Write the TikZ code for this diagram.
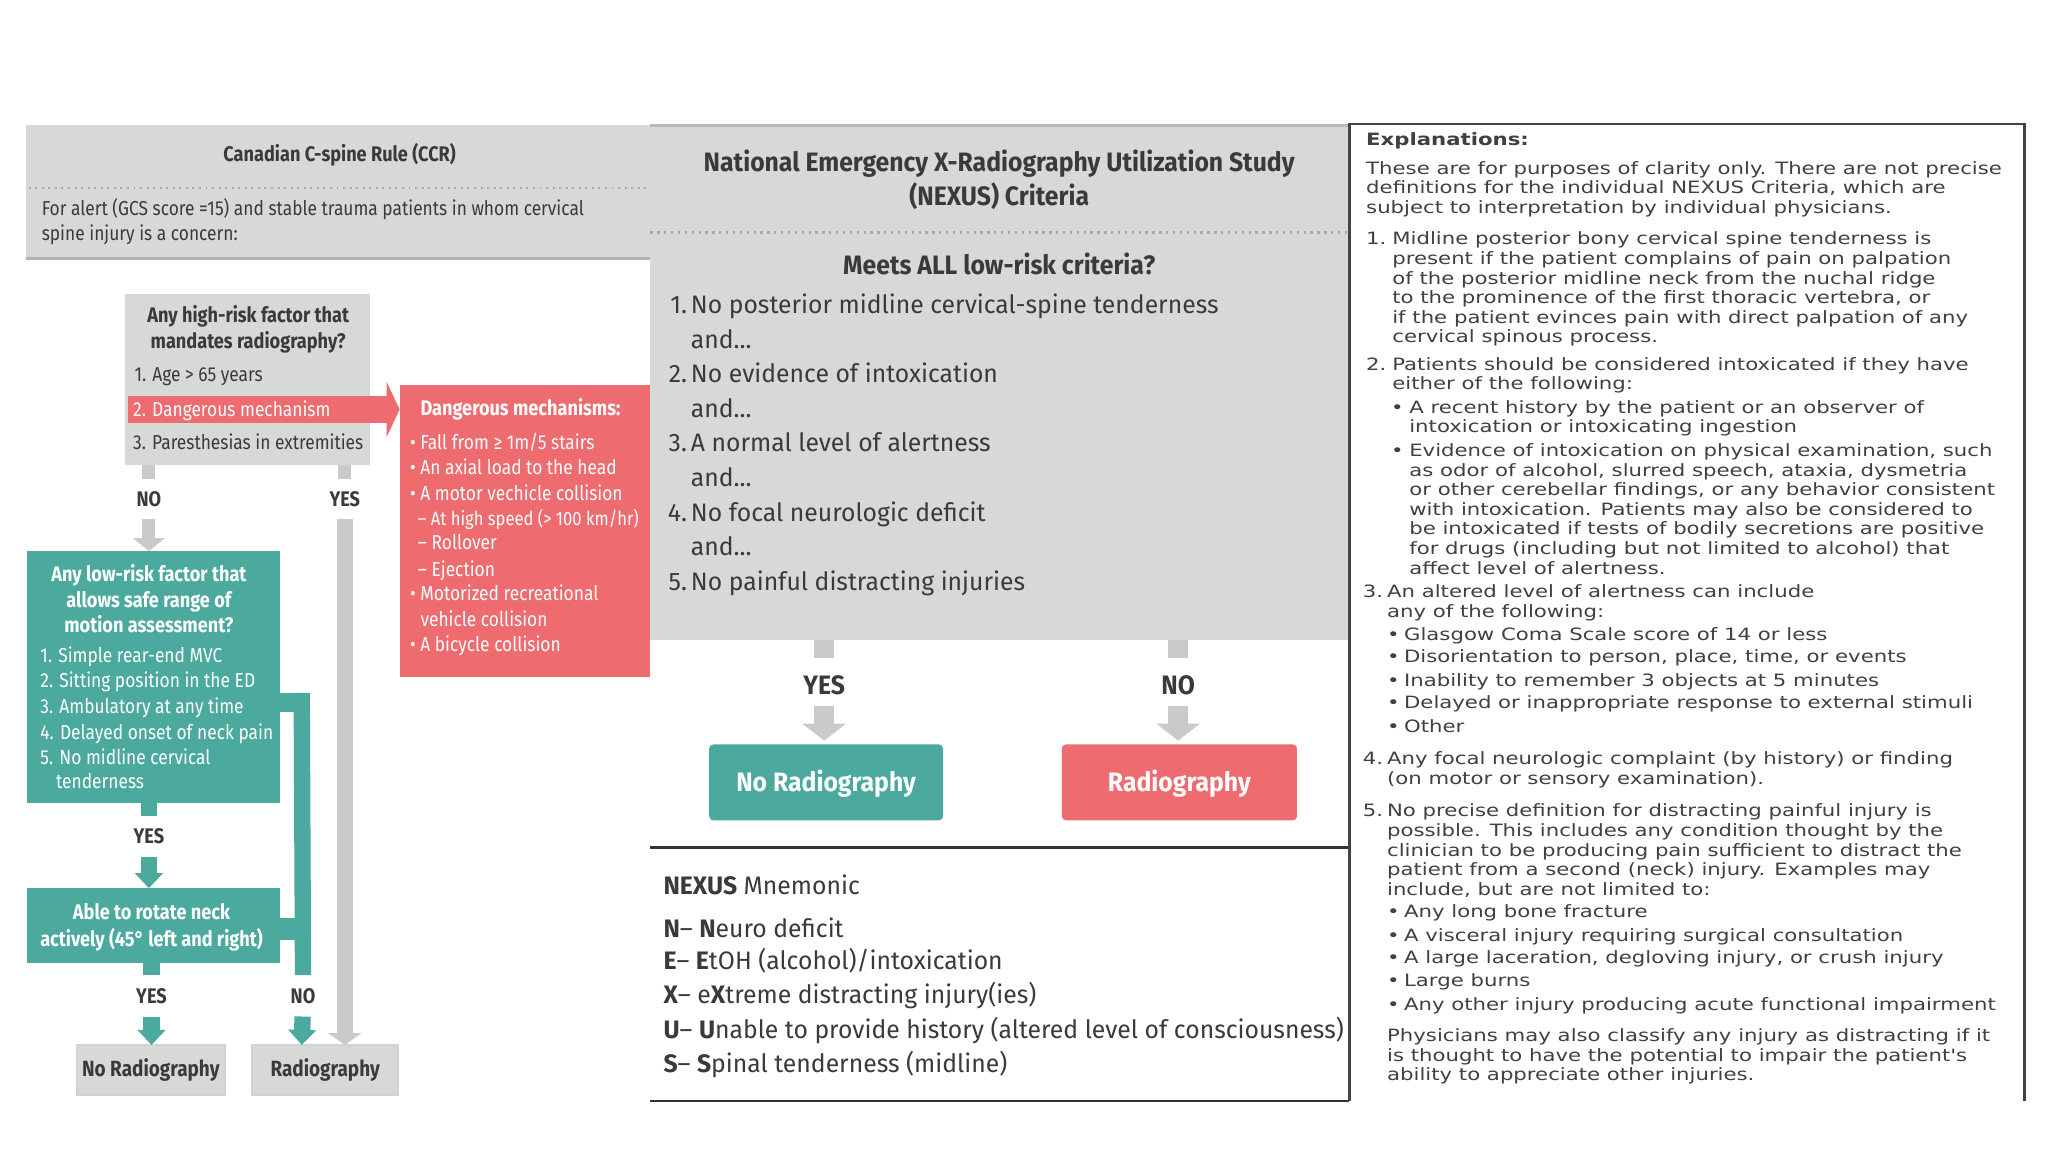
\documentclass[tikz,border=0pt]{standalone}
\usepackage{fontspec}
\setmainfont{Fira Sans}
\newfontfamily\cndL[FakeStretch=0.86]{Fira Sans}
\newfontfamily\cndM[FakeStretch=0.93]{Fira Sans}
\newfontfamily\cndMR[FakeStretch=0.98]{Fira Sans}
\newfontfamily\exfont[FakeStretch=1.25]{DejaVu Sans}
\usetikzlibrary{arrows.meta,calc}
\definecolor{gboxc}{HTML}{D6D9D6}
\definecolor{garrc}{HTML}{C9CBC9}
\definecolor{tealc}{HTML}{4BAA9D}
\definecolor{redc}{HTML}{EE6B70}
\definecolor{darkc}{HTML}{3A3A3A}
\definecolor{exc}{HTML}{404040}
\definecolor{linec}{HTML}{444444}
\definecolor{dotc}{HTML}{A8ABA8}
\def\PX{0.02cm}
\newcommand\EL[3]{\node[txt,fE] (#1) at (#2) {#3};}
\newcommand\ELN[3]{\node[txt,fE,anchor=base east] (#1) at (#2) {#3};}
\begin{document}
\begin{tikzpicture}[x=0.02cm,y=-0.02cm,
 box/.style={rectangle,inner sep=0,outer sep=0,anchor=north west},
 txt/.style={inner sep=0,outer sep=0,anchor=base west,text=darkc},
 ctxt/.style={inner sep=0,outer sep=0,anchor=base,text=darkc},
 fL/.style={font=\cndL\fontsize{8.8}{10}\selectfont},
 fLb/.style={font=\cndL\bfseries\fontsize{9.2}{10}\selectfont},
 fM/.style={font=\cndMR\fontsize{11}{12}\selectfont},
 fMb/.style={font=\cndM\bfseries\fontsize{11.6}{13}\selectfont},
 fE/.style={font=\exfont\fontsize{7.4}{9}\selectfont,text=exc},
 gstem/.style={draw=garrc,line width=0.2cm},
 garrow/.style={draw=garrc,line width=0.2cm,-{Triangle[length=0.2cm,width=0.48cm]}},
 glong/.style={draw=garrc,line width=0.25cm,-{Triangle[length=0.18cm,width=0.5cm]}},
 tstem/.style={draw=tealc,line width=0.25cm},
 tarrow/.style={draw=tealc,line width=0.25cm,-{Triangle[length=0.23cm,width=0.42cm]}},
 mstem/.style={draw=garrc,line width=0.3cm},
 marrow/.style={draw=garrc,line width=0.3cm,-{Triangle[length=0.26cm,width=0.66cm]}},
]
\useasboundingbox (0,0) rectangle (1568,882);
\fill[white] (0,0) rectangle (1568,882);

% ================= LEFT: CCR =================
\node[box,fill=gboxc,minimum width=478*\PX,minimum height=102*\PX] (ccr) at (20,96) {};
\draw[draw=gray!60,line width=0.04cm] (ccr.south west) -- (ccr.south east);
\node[ctxt,fLb] (ccrt) at (260,124) {Canadian C-spine Rule (CCR)};
\draw[dotc,dotted,line width=0.03cm] (22,144) -- (ccr.east |- 0,144);
\node[txt,fL] (ccr1) at (32,165) {For alert (GCS score =15) and stable trauma patients in whom cervical};
\node[txt,fL] (ccr2) at (32,184) {spine injury is a concern:};

% high-risk box
\node[box,fill=gboxc,minimum width=187*\PX,minimum height=131*\PX] (hr) at (96,225) {};
\node[ctxt,fLb] (hrt1) at (190,247) {Any high-risk factor that};
\node[ctxt,fLb] (hrt2) at (190,267) {mandates radiography?};
\node[txt,fL] (hr1) at (103,292) {1. Age > 65 years};
\node[box,fill=redc,minimum width=197*\PX,minimum height=21*\PX] (dmi) at (98,303) {};
\node[txt,fL,text=white] (hr2) at (102,318.5) {2. Dangerous mechanism};
\node[txt,fL] (hr3) at (102,344) {3. Paresthesias in extremities};

% dangerous mechanisms box
\node[box,fill=redc,minimum width=192*\PX,minimum height=223*\PX] (dm) at (306,295) {};
\draw[draw=redc,line width=0.42cm,-{Triangle[length=0.2cm,width=0.84cm]}] (dmi.east) -- (dm.west |- dmi.east);
\node[txt,fLb,text=white] (dmt) at (322,318) {Dangerous mechanisms:};
\node[txt,fL,text=white] (dm1) at (314,344) {• Fall from ≥ 1m/5 stairs};
\node[txt,fL,text=white] (dm2) at (314,363) {• An axial load to the head};
\node[txt,fL,text=white] (dm3) at (314,383) {• A motor vechicle collision};
\node[txt,text=white,font=\cndL\fontsize{8.4}{10}\selectfont] (dm4) at (320,402) {– At high speed (> 100 km/hr)};
\node[txt,fL,text=white] (dm5) at (320,421) {– Rollover};
\node[txt,fL,text=white] (dm6) at (320,441) {– Ejection};
\node[txt,fL,text=white] (dm7) at (314,460) {• Motorized recreational};
\node[txt,fL,text=white] (dm8) at (322,480) {vehicle collision};
\node[txt,fL,text=white] (dm9) at (314,499) {• A bicycle collision};

% NO / YES under high-risk
\node[ctxt,fLb] (hrno) at (114,388) {NO};
\node[ctxt,fLb] (hryes) at (264,388) {YES};
\draw[gstem] (hr.south -| hrno) -- ([yshift=0.2cm]hrno.north);
\draw[gstem] (hr.south -| hryes) -- ([yshift=0.2cm]hryes.north);

% low-risk teal box
\node[box,fill=tealc,minimum width=193*\PX,minimum height=193*\PX] (lr) at (21,422) {};
\draw[garrow,shorten <=0.18cm] (hrno.south) -- (lr.north -| hrno);
\node[ctxt,fLb,text=white] (lrt1) at (114,445) {Any low-risk factor that};
\node[ctxt,fLb,text=white] (lrt2) at (114,465) {allows safe range of};
\node[ctxt,fLb,text=white] (lrt3) at (114,484) {motion assessment?};
\node[txt,fL,text=white] (lr1) at (31,507) {1. Simple rear-end MVC};
\node[txt,fL,text=white] (lr2) at (31,526) {2. Sitting position in the ED};
\node[txt,fL,text=white] (lr3) at (31,546) {3. Ambulatory at any time};
\node[txt,fL,text=white] (lr4) at (31,566) {4. Delayed onset of neck pain};
\node[txt,fL,text=white] (lr5) at (31,585) {5. No midline cervical};
\node[txt,fL,text=white] (lr6) at (43,604) {tenderness};

% YES -> rotate box
\node[ctxt,fLb] (lryes) at (114,646) {YES};
\draw[tstem] (lr.south -| lryes) -- ([yshift=0.2cm]lryes.north);
\node[box,fill=tealc,minimum width=193*\PX,minimum height=57*\PX] (rot) at (21,680) {};
\draw[tarrow,shorten <=0.2cm] (lryes.south) -- (rot.north -| lryes);
\node[ctxt,fLb,text=white] (rott1) at (116,704) {Able to rotate neck};
\node[ctxt,fLb,text=white] (rott2) at (116,725) {actively (45° left and right)};

% bottom outcomes (left)
\node[box,fill=gboxc,draw=gray!35,line width=0.03cm,minimum width=113*\PX,minimum height=38*\PX] (norL) at (59,800) {};
\node[ctxt,fLb,font=\cndL\bfseries\fontsize{9.6}{10}\selectfont] (norLt) at (norL.center |- 0,824) {No Radiography};
\node[box,fill=gboxc,draw=gray!35,line width=0.03cm,minimum width=112*\PX,minimum height=38*\PX] (radL) at (193,800) {};
\node[ctxt,fLb,font=\cndL\bfseries\fontsize{9.6}{10}\selectfont] (radLt) at (radL.center |- 0,824) {Radiography};

% rotate YES / NO
\node[ctxt,fLb] (rotyes) at (116,768) {YES};
\node[ctxt,fLb] (rotno) at (232,768) {NO};
\draw[tstem] (rot.south -| rotyes) -- ([yshift=0.2cm]rotyes.north);
\draw[tarrow,shorten <=0.2cm] (rotyes.south) -- (norL.north -| rotyes);
% teal NO path from low-risk box and rotate box
\draw[draw=tealc,line width=0.3cm] (lr.east |- 0,538) -- (231,538);
\draw[draw=tealc,line width=0.25cm] (231,530.5) -- ([yshift=0.2cm]rotno.north);
\draw[draw=tealc,line width=0.34cm] (rot.east |- 0,711.5) -- (231,711.5);
\draw[tarrow,shorten <=0.2cm] (rotno.south) -- (radL.north -| 231,0);
% long gray YES bar
\draw[glong,shorten <=0.18cm] (hryes.south) -- (radL.north -| hryes);

% ================= MIDDLE: NEXUS =================
\node[box,fill=gboxc,minimum width=535*\PX,minimum height=394*\PX] (nx) at (498,96) {};
\draw[draw=gray!55,line width=0.04cm] (nx.north west) -- (nx.north east);
\node[ctxt,fMb] (nxt1) at (765,131) {National Emergency X-Radiography Utilization Study};
\node[ctxt,fMb] (nxt2) at (765,157) {(NEXUS) Criteria};
\draw[dotc,dotted,line width=0.035cm] (nx.west |- 0,178) -- (nx.east |- 0,178);
\node[ctxt,fMb] (meets) at (765,210) {Meets ALL low-risk criteria?};
\node[txt,fM,anchor=base east] (n1) at (526,240) {1.};
\node[txt,fM] (c1) at (529,240) {No posterior midline cervical-spine tenderness};
\node[txt,fM] (a1) at (529,266.5) {and...};
\node[txt,fM,anchor=base east] (n2) at (526,293) {2.};
\node[txt,fM] (c2) at (529,293) {No evidence of intoxication};
\node[txt,fM] (a2) at (529,319.5) {and...};
\node[txt,fM,anchor=base east] (n3) at (526,346) {3.};
\node[txt,fM] (c3) at (529,346) {A normal level of alertness};
\node[txt,fM] (a3) at (529,372.5) {and...};
\node[txt,fM,anchor=base east] (n4) at (526,399) {4.};
\node[txt,fM] (c4) at (529,399) {No focal neurologic deficit};
\node[txt,fM] (a4) at (529,425.5) {and...};
\node[txt,fM,anchor=base east] (n5) at (526,452) {5.};
\node[txt,fM] (c5) at (529,452) {No painful distracting injuries};

\node[ctxt,fMb] (myes) at (631,532) {YES};
\node[ctxt,fMb] (mno) at (902,532) {NO};
\draw[mstem] (nx.south -| myes) -- ([yshift=0.28cm]myes.north);
\draw[mstem] (nx.south -| mno) -- ([yshift=0.28cm]mno.north);
\node[box,fill=tealc,rounded corners=0.06cm,minimum width=179*\PX,minimum height=58*\PX] (norM) at (543,570) {};
\node[box,fill=redc,rounded corners=0.06cm,minimum width=180*\PX,minimum height=58*\PX] (radM) at (813,570) {};
\draw[marrow,shorten <=0.16cm,shorten >=0.06cm] (myes.south) -- (norM.north -| myes);
\draw[marrow,shorten <=0.16cm,shorten >=0.06cm] (mno.south) -- (radM.north -| mno);
\node[ctxt,fMb,text=white] (norMt) at (norM.center |- 0,606) {No Radiography};
\node[ctxt,fMb,text=white] (radMt) at (radM.center |- 0,606) {Radiography};

\draw[black!80,line width=0.04cm] (nx.west |- 0,649) -- (nx.east |- 0,649);
\draw[black!80,line width=0.04cm] (nx.west |- 0,843) -- (nx.east |- 0,843);
\node[txt,fM] (mn0) at (508,685) {\bfseries NEXUS\mdseries\ Mnemonic};
\node[txt,fM] (mn1) at (508,718) {\textbf{N}– \textbf{N}euro deficit};
\node[txt,fM] (mn2) at (508,742) {\textbf{E}– \textbf{E}tOH (alcohol)/intoxication};
\node[txt,fM] (mn3) at (508,768) {\textbf{X}– e\textbf{X}treme distracting injury(ies)};
\node[txt,fM] (mn4) at (508,795) {\textbf{U}– \textbf{U}nable to provide history (altered level of consciousness)};
\node[txt,fM] (mn5) at (508,821) {\textbf{S}– \textbf{S}pinal tenderness (midline)};

% ================= RIGHT: Explanations =================
\draw[linec,line width=0.04cm] (1033,843) -- (1033,95) -- (1550,95) -- (1550,843);
\node[txt,fE,font=\exfont\bfseries\fontsize{7.4}{9}\selectfont] (ex0) at (1046,111.5) {Explanations:};
\EL{p1}{1046,133.5}{These are for purposes of clarity only. There are not precise}
\EL{p2}{1046,148.5}{definitions for the individual NEXUS Criteria, which are}
\EL{p3}{1046,163.5}{subject to interpretation by individual physicians.}
\EL{i1n}{1046,187.5}{1.}
\EL{i1a}{1066,187.5}{Midline posterior bony cervical spine tenderness is}
\EL{i1b}{1066,202.5}{present if the patient complains of pain on palpation}
\EL{i1c}{1066,217.5}{of the posterior midline neck from the nuchal ridge}
\EL{i1d}{1066,232.5}{to the prominence of the first thoracic vertebra, or}
\EL{i1e}{1066,247.5}{if the patient evinces pain with direct palpation of any}
\EL{i1f}{1066,262.5}{cervical spinous process.}
\EL{i2n}{1046,283.5}{2.}
\EL{i2a}{1066,283.5}{Patients should be considered intoxicated if they have}
\EL{i2b}{1066,298.5}{either of the following:}
\EL{i2c0}{1065,316.5}{•}
\EL{i2c}{1079,316.5}{A recent history by the patient or an observer of}
\EL{i2d}{1079,331.5}{intoxication or intoxicating ingestion}
\EL{i2e0}{1065,349.5}{•}
\EL{i2e}{1079,349.5}{Evidence of intoxication on physical examination, such}
\EL{i2f}{1079,364.5}{as odor of alcohol, slurred speech, ataxia, dysmetria}
\EL{i2g}{1079,379.5}{or other cerebellar findings, or any behavior consistent}
\EL{i2h}{1079,394.5}{with intoxication. Patients may also be considered to}
\EL{i2i}{1079,409.5}{be intoxicated if tests of bodily secretions are positive}
\EL{i2j}{1079,424.5}{for drugs (including but not limited to alcohol) that}
\EL{i2k}{1079,439.5}{affect level of alertness.}
\ELN{i3n}{1059,457.5}{3.}
\EL{i3a}{1062,457.5}{An altered level of alertness can include}
\EL{i3b}{1062,472.5}{any of the following:}
\EL{i3c0}{1062,490.5}{•}
\EL{i3c}{1075,490.5}{Glasgow Coma Scale score of 14 or less}
\EL{i3d0}{1062,507.5}{•}
\EL{i3d}{1075,507.5}{Disorientation to person, place, time, or events}
\EL{i3e0}{1062,525.5}{•}
\EL{i3e}{1075,525.5}{Inability to remember 3 objects at 5 minutes}
\EL{i3f0}{1062,542.5}{•}
\EL{i3f}{1075,542.5}{Delayed or inappropriate response to external stimuli}
\EL{i3g0}{1062,560.5}{•}
\EL{i3g}{1075,560.5}{Other}
\ELN{i4n}{1059,585.5}{4.}
\EL{i4a}{1062,585.5}{Any focal neurologic complaint (by history) or finding}
\EL{i4b}{1062,600.5}{(on motor or sensory examination).}
\ELN{i5n}{1059,625.5}{5.}
\EL{i5a}{1062,625.5}{No precise definition for distracting painful injury is}
\EL{i5b}{1062,640.5}{possible. This includes any condition thought by the}
\EL{i5c}{1062,655.5}{clinician to be producing pain sufficient to distract the}
\EL{i5d}{1062,670.5}{patient from a second (neck) injury. Examples may}
\EL{i5e}{1062,685.5}{include, but are not limited to:}
\EL{i5f0}{1062,702.5}{•}
\EL{i5f}{1075,702.5}{Any long bone fracture}
\EL{i5g0}{1062,720.5}{•}
\EL{i5g}{1075,720.5}{A visceral injury requiring surgical consultation}
\EL{i5h0}{1062,737.5}{•}
\EL{i5h}{1075,737.5}{A large laceration, degloving injury, or crush injury}
\EL{i5i0}{1062,755.5}{•}
\EL{i5i}{1075,755.5}{Large burns}
\EL{i5j0}{1062,773.5}{•}
\EL{i5j}{1075,773.5}{Any other injury producing acute functional impairment}
\EL{ph1}{1062,797.5}{Physicians may also classify any injury as distracting if it}
\EL{ph2}{1062,812.5}{is thought to have the potential to impair the patient's}
\EL{ph3}{1062,827.5}{ability to appreciate other injuries.}
\end{tikzpicture}
\end{document}
